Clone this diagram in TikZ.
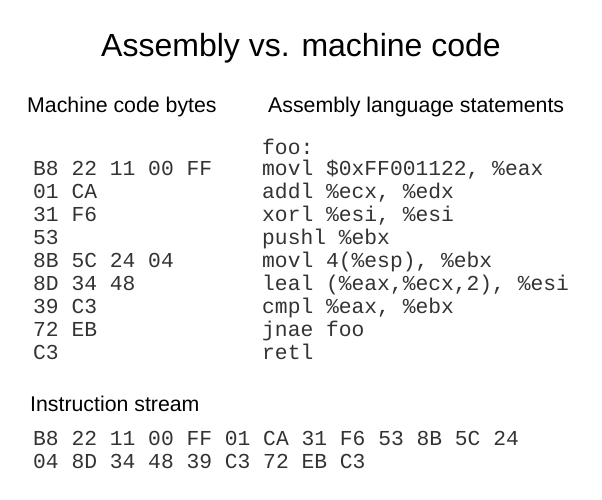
\documentclass[tikz,border=0pt]{standalone}
\usepackage{fontspec}
\setmainfont{Liberation Sans}
\setmonofont{Liberation Mono}
\begin{document}
\begin{tikzpicture}[x=1pt,y=-1pt,
  mono/.style={anchor=base west,inner sep=0pt,text=black!80,font=\fontsize{21.3}{23}\ttfamily},
  head/.style={anchor=base west,inner sep=0pt,font=\fontsize{21.3}{24}\selectfont},
  ttl/.style={anchor=base,inner sep=0pt,font=\fontsize{32}{36}\selectfont}]
\useasboundingbox (0,0) rectangle (602,499);
\node[ttl] (title) at (301,56) {Assembly vs. machine code};
\node[head] (h1) at (27,112) {Machine code bytes};
\node[head] (h2) at (268,112) {Assembly language statements};
\node[mono] (foo) at (262,154) {foo:};
\node[mono] (m1) at (33,175) {B8 22 11 00 FF};
\node[mono] (m2) at (33,198) {01 CA};
\node[mono] (m3) at (33,221) {31 F6};
\node[mono] (m4) at (33,244) {53};
\node[mono] (m5) at (33,267) {8B 5C 24 04};
\node[mono] (m6) at (33,290) {8D 34 48};
\node[mono] (m7) at (33,313) {39 C3};
\node[mono] (m8) at (33,336) {72 EB};
\node[mono] (m9) at (33,359) {C3};
\node[mono] (a1) at (262,175) {movl \$0xFF001122, \%eax};
\node[mono] (a2) at (262,198) {addl \%ecx, \%edx};
\node[mono] (a3) at (262,221) {xorl \%esi, \%esi};
\node[mono] (a4) at (262,244) {pushl \%ebx};
\node[mono] (a5) at (262,267) {movl 4(\%esp), \%ebx};
\node[mono] (a6) at (262,290) {leal (\%eax,\%ecx,2), \%esi};
\node[mono] (a7) at (262,313) {cmpl \%eax, \%ebx};
\node[mono] (a8) at (262,336) {jnae foo};
\node[mono] (a9) at (262,359) {retl};
\node[head] (h3) at (30,411) {Instruction stream};
\node[mono] (s1) at (33,445) {B8 22 11 00 FF 01 CA 31 F6 53 8B 5C 24};
\node[mono] (s2) at (33,468) {04 8D 34 48 39 C3 72 EB C3};
\end{tikzpicture}
\end{document}
